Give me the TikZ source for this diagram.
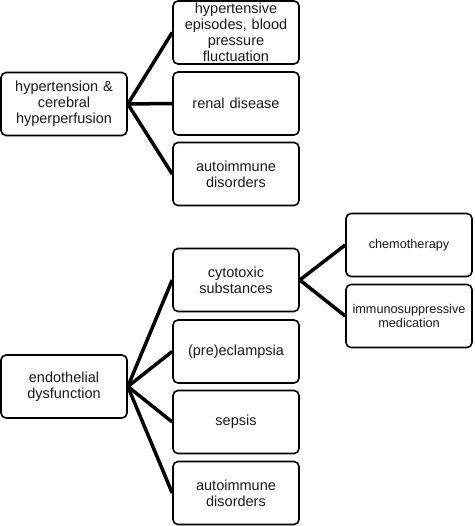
\documentclass[tikz,border=0pt]{standalone}
\usepackage{fontspec}
\setmainfont{Liberation Sans}
\begin{document}
\begin{tikzpicture}[x=1pt,y=-1pt,
  box/.style={draw=black, line width=1.6pt, rounded corners=5pt, fill=white,
    minimum width=126pt, minimum height=63pt, text width=122pt, align=center,
    inner sep=1pt, text=black!90, font=\fontsize{14.5}{16}\selectfont},
  smallbox/.style={box, font=\fontsize{12.7}{13.5}\selectfont},
  conn/.style={line width=3.5pt, draw=black}]
\useasboundingbox (0,0) rectangle (474,526);
\node[box] (hyp) at (64,104) {hypertension \&\\cerebral\\hyperperfusion};
\node[box] (r1) at (236,32.5) {hypertensive\\episodes, blood\\pressure\\fluctuation};
\node[box] (r2) at (236,103.5) {renal disease};
\node[box] (r3) at (236,174) {autoimmune\\disorders};
\node[box] (endo) at (64,386.5) {endothelial\\dysfunction};
\node[box] (cyt) at (236,280) {cytotoxic\\substances};
\node[box] (pre) at (236,351.5) {(pre)eclampsia};
\node[box] (sep) at (236,422) {sepsis};
\node[box] (auto) at (236,493) {autoimmune\\disorders};
\node[smallbox] (chem) at (409,245) {chemotherapy};
\node[smallbox] (imm) at (409,316) {immunosuppressive\\medication};
\draw[conn] (hyp.east) -- (r1.west);
\draw[conn] (hyp.east) -- (r2.west);
\draw[conn] (hyp.east) -- (r3.west);
\draw[conn] (endo.east) -- (cyt.west);
\draw[conn] (endo.east) -- (pre.west);
\draw[conn] (endo.east) -- (sep.west);
\draw[conn] (endo.east) -- (auto.west);
\draw[conn] (cyt.east) -- (chem.west);
\draw[conn] (cyt.east) -- (imm.west);
\end{tikzpicture}
\end{document}
